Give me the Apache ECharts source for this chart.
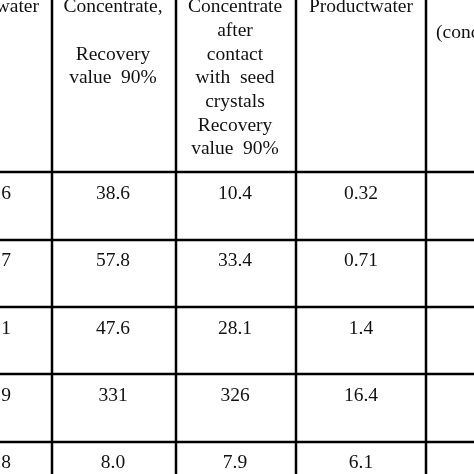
<!DOCTYPE html>
<html><head><meta charset="utf-8">
<script src="https://cdn.jsdelivr.net/npm/echarts@6/dist/echarts.min.js"></script>
<style>html,body{margin:0;padding:0;background:#fff}#c{width:474px;height:474px}</style>
</head><body><div id="c"></div>
<script>
const headers = [
  ['Feedwater'],
  ['Concentrate,', '', 'Recovery', 'value  90%'],
  ['Concentrate', 'after', 'contact', 'with  seed', 'crystals', 'Recovery', 'value  90%'],
  ['Productwater'],
  ['', '(conc']
];
const feedwater = ['17.6', '15.7', '4.1', '31.9', '6.8'];
const concentrate = ['38.6', '57.8', '47.6', '331', '8.0'];
const afterSeed = ['10.4', '33.4', '28.1', '326', '7.9'];
const productwater = ['0.32', '0.71', '1.4', '16.4', '6.1'];
const columns = [feedwater, concentrate, afterSeed, productwater, ['', '', '', '', '']];

const colLines = [52, 176, 296, 426];
const rowLines = [172, 240, 307, 374, 442];
const colCenters = [null, 113, 235, 361, null];
const font = '"Liberation Serif", "DejaVu Serif", serif';
const fs = 19.5;

const els = [];
const txt = (x, y, s, align) => els.push({
  type: 'text', x: x, y: y,
  style: { text: s, font: fs + 'px ' + font, fill: '#111', textAlign: align || 'center', textVerticalAlign: 'middle' }
});
colLines.forEach(x => els.push({ type: 'line', shape: { x1: x, y1: 0, x2: x, y2: 474 }, style: { stroke: '#000', lineWidth: 2.5 } }));
rowLines.forEach(y => els.push({ type: 'line', shape: { x1: 0, y1: y, x2: 474, y2: y }, style: { stroke: '#000', lineWidth: 2.5 } }));

headers.forEach((lines, c) => {
  lines.forEach((s, i) => {
    const y = 7 + i * 23.7;
    if (c === 0) txt(39, y, s, 'right');
    else if (c === 4) txt(436, y + 2, s, 'left');
    else txt(colCenters[c], y, s);
  });
});
const rowY = [194, 261, 329, 396, 463];
columns.forEach((vals, c) => {
  vals.forEach((v, r) => {
    if (!v) return;
    if (c === 0) txt(11, rowY[r], v, 'right');
    else txt(colCenters[c], rowY[r], v);
  });
});

const chart = echarts.init(document.getElementById('c'));
chart.setOption({ backgroundColor: '#fff', animation: false, graphic: { elements: els } });
</script></body></html>
